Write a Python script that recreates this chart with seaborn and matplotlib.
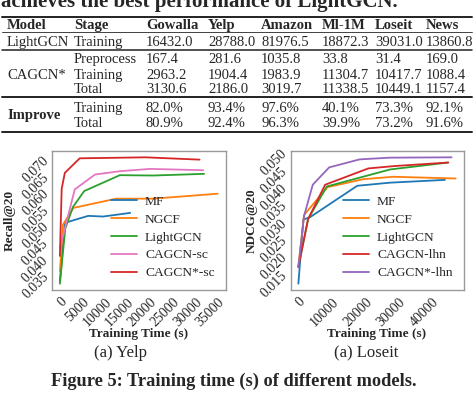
"""
Figure 5 page crop: training-time table + Recall/NDCG vs training time curves
"""

import matplotlib
matplotlib.use("Agg")
import matplotlib.pyplot as plt
from matplotlib.lines import Line2D
from matplotlib.ticker import MultipleLocator, FormatStrFormatter
import pandas as pd
import seaborn as sns

# ============ TABLE DATA ============
DATASETS = ["Gowalla", "Yelp", "Amazon", "Ml-1M", "Loseit", "News"]
LIGHTGCN_TRAIN = [16432.0, 28788.0, 81976.5, 18872.3, 39031.0, 13860.8]
CAGCN_PREPROCESS = [167.4, 281.6, 1035.8, 33.8, 31.4, 169.0]
CAGCN_TRAIN = [2963.2, 1904.4, 1983.9, 11304.7, 10417.7, 1088.4]
CAGCN_TOTAL = [3130.6, 2186.0, 3019.7, 11338.5, 10449.1, 1157.4]
IMPROVE_TRAIN = [82.0, 93.4, 97.6, 40.1, 73.3, 92.1]
IMPROVE_TOTAL = [80.9, 92.4, 96.3, 39.9, 73.2, 91.6]

# ============ CURVE DATA (Yelp, Recall@20) ============
YELP_MODELS = ["MF", "NGCF", "LightGCN", "CAGCN-sc", "CAGCN*-sc"]
yelp_mf_t = [0, 1100, 6300, 9600, 15600]
yelp_mf = [0.0330, 0.0507, 0.0528, 0.0526, 0.0537]
yelp_ngcf_t = [0, 700, 3000, 12500, 20700, 35000]
yelp_ngcf = [0.0360, 0.0502, 0.0552, 0.0580, 0.0580, 0.0595]
yelp_lightgcn_t = [0, 1200, 2900, 5400, 13300, 20700, 32000]
yelp_lightgcn = [0.0323, 0.0490, 0.0555, 0.0603, 0.0651, 0.0650, 0.0655]
yelp_cagcn_t = [0, 3300, 7800, 13300, 20000, 31800]
yelp_cagcn = [0.0430, 0.0608, 0.0653, 0.0663, 0.0670, 0.0666]
yelp_cagcn_star_t = [0, 400, 1100, 4400, 19000, 31000]
yelp_cagcn_star = [0.0407, 0.0610, 0.0658, 0.0702, 0.0705, 0.0698]

# ============ CURVE DATA (Loseit, NDCG@20) ============
LOSEIT_MODELS = ["MF", "NGCF", "LightGCN", "CAGCN-lhn", "CAGCN*-lhn"]
loseit_mf_t = [0, 1500, 3400, 17600, 27400, 43800]
loseit_mf = [0.0120, 0.0305, 0.0311, 0.0402, 0.0411, 0.0419]
loseit_ngcf_t = [0, 1700, 8700, 19400, 28400, 47000]
loseit_ngcf = [0.0170, 0.0318, 0.0398, 0.0421, 0.0428, 0.0423]
loseit_lightgcn_t = [0, 2900, 8500, 27400, 44800]
loseit_lightgcn = [0.0168, 0.0306, 0.0400, 0.0449, 0.0469]
loseit_cagcn_t = [0, 2900, 8000, 20900, 28900, 44800]
loseit_cagcn = [0.0168, 0.0306, 0.0405, 0.0452, 0.0459, 0.0469]
loseit_cagcn_star_t = [0, 1700, 4300, 9200, 18300, 27200, 45800]
loseit_cagcn_star = [0.0168, 0.0315, 0.0405, 0.0455, 0.0478, 0.0483, 0.0484]

SERIF = ["Liberation Serif", "DejaVu Serif"]
W, H = 474, 393


def long_frame(models, series):
    """Stack (time, score) lists into one long DataFrame for seaborn"""
    rows = []
    for name, (t, v) in zip(models, series):
        for ti, vi in zip(t, v):
            rows.append({"time": ti, "score": vi, "model": name})
    return pd.DataFrame(rows)


def fy(py):
    """pixel row (from top) -> figure fraction"""
    return 1 - py / H


def fx(px):
    return px / W


def draw_table(fig):
    fs = 10.5
    kw = dict(family=SERIF, fontsize=fs, va="center_baseline", ha="left")
    col_x = [146, 208, 261, 322, 375, 426]

    # paragraph line cut off at the top of the page crop
    fig.text(fx(1), fy(7.5), "achieves the best performance of LightGCN.",
             family=SERIF, fontsize=15, fontweight="bold", va="baseline", ha="left")

    # rules
    for py, lw in [(16.5, 1.4), (32, 0.6), (50, 1.1), (97, 1.4), (132, 1.4)]:
        fig.add_artist(Line2D([fx(2), fx(472)], [fy(py), fy(py)], color="#222222",
                              lw=lw, transform=fig.transFigure))

    # header
    fig.text(fx(7), fy(24), "Model", fontweight="bold", **kw)
    fig.text(fx(74), fy(24), "Stage", fontweight="bold", **kw)
    for x, name in zip(col_x, DATASETS):
        fig.text(fx(x), fy(24), name, fontweight="bold", **kw)

    rows = [
        (40.7, "Training", [f"{v:.1f}" for v in LIGHTGCN_TRAIN]),
        (58.3, "Preprocess", [f"{v:.1f}" for v in CAGCN_PREPROCESS]),
        (74.0, "Training", [f"{v:.1f}" for v in CAGCN_TRAIN]),
        (88.3, "Total", [f"{v:.1f}" for v in CAGCN_TOTAL]),
        (107.3, "Training", [f"{v:.1f}%" for v in IMPROVE_TRAIN]),
        (121.7, "Total", [f"{v:.1f}%" for v in IMPROVE_TOTAL]),
    ]
    for py, stage, vals in rows:
        fig.text(fx(74), fy(py), stage, **kw)
        for x, v in zip(col_x, vals):
            fig.text(fx(x), fy(py), v, **kw)

    fig.text(fx(7), fy(40.7), "LightGCN", **kw)
    fig.text(fx(7), fy(74.0), "CAGCN*", **kw)
    fig.text(fx(7), fy(114.5), "Improve", fontweight="bold", **kw)


def style_axes(ax, ylabel, xstep, ystep, ylab_x):
    ax.xaxis.set_major_locator(MultipleLocator(xstep))
    ax.yaxis.set_major_locator(MultipleLocator(ystep))
    ax.yaxis.set_major_formatter(FormatStrFormatter("%.3f"))
    ax.xaxis.set_major_formatter(FormatStrFormatter("%d"))
    ax.tick_params(length=3, width=0.8, color="#888888", pad=1)
    for lab in ax.get_xticklabels():
        lab.set(rotation=45, ha="right", va="top", rotation_mode="anchor",
                family=SERIF, fontsize=10)
    for lab in ax.get_yticklabels():
        lab.set(rotation=45, ha="right", va="center", rotation_mode="anchor",
                family=SERIF, fontsize=10)
    for sp in ax.spines.values():
        sp.set_color("#999999")
        sp.set_linewidth(1.0)
    ax.set_xlabel("Training Time (s)", family=SERIF, fontsize=9.5, fontweight="bold")
    ax.set_ylabel(ylabel, family=SERIF, fontsize=9.5, fontweight="bold")
    ax.xaxis.set_label_coords(0.5, -0.27)
    ax.yaxis.set_label_coords(ylab_x, 0.5)
    sns.move_legend(ax, "lower right", frameon=False, title=None,
                    prop={"family": SERIF, "size": 9.7},
                    handlelength=1.9, handletextpad=0.6, labelspacing=0.4,
                    borderaxespad=0.4)


def main():
    sns.set_style("white")
    plt.rcParams["font.family"] = SERIF

    fig = plt.figure(figsize=(W / 100, H / 100), dpi=100)
    draw_table(fig)

    pal_yelp = dict(zip(YELP_MODELS, ["#1f77b4", "#ff7f0e", "#2ca02c", "#e377c2", "#d62728"]))
    pal_loseit = dict(zip(LOSEIT_MODELS, ["#1f77b4", "#ff7f0e", "#2ca02c", "#d62728", "#9467bd"]))

    yelp = long_frame(YELP_MODELS, [
        (yelp_mf_t, yelp_mf), (yelp_ngcf_t, yelp_ngcf), (yelp_lightgcn_t, yelp_lightgcn),
        (yelp_cagcn_t, yelp_cagcn), (yelp_cagcn_star_t, yelp_cagcn_star)])
    loseit = long_frame(LOSEIT_MODELS, [
        (loseit_mf_t, loseit_mf), (loseit_ngcf_t, loseit_ngcf),
        (loseit_lightgcn_t, loseit_lightgcn), (loseit_cagcn_t, loseit_cagcn),
        (loseit_cagcn_star_t, loseit_cagcn_star)])

    bottom = fy(290)
    height = (290 - 151) / H
    ax1 = fig.add_axes([fx(52), bottom, (225.5 - 52) / W, height])
    ax2 = fig.add_axes([fx(290.5), bottom, (463.5 - 290.5) / W, height])

    sns.lineplot(data=yelp, x="time", y="score", hue="model", hue_order=YELP_MODELS,
                 palette=pal_yelp, sort=False, estimator=None, linewidth=1.3, ax=ax1)
    sns.lineplot(data=loseit, x="time", y="score", hue="model", hue_order=LOSEIT_MODELS,
                 palette=pal_loseit, sort=False, estimator=None, linewidth=1.3, ax=ax2)

    style_axes(ax1, "Recall@20", 5000, 0.005, -0.21)
    style_axes(ax2, "NDCG@20", 10000, 0.005, -0.19)

    fig.text(fx(120), fy(353), "(a) Yelp", family=SERIF, fontsize=12, ha="center", va="center")
    fig.text(fx(366), fy(353), "(a) Loseit", family=SERIF, fontsize=12, ha="center", va="center")
    fig.text(fx(234), fy(381.5), "Figure 5: Training time (s) of different models.",
             family=SERIF, fontsize=13.2, fontweight="bold", ha="center", va="center")

    fig.savefig("out.png", dpi=100)


if __name__ == "__main__":
    main()
